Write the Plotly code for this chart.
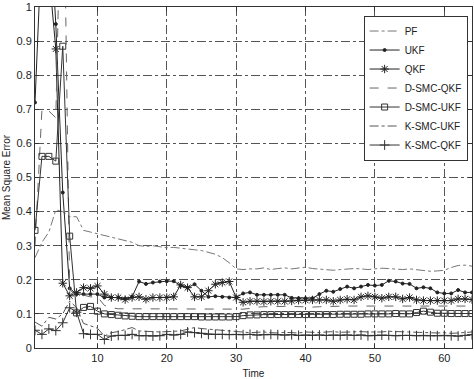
import plotly.graph_objects as go

time = list(range(1, 65))

pf = [0.265,0.31,0.34,0.405,0.40,0.385,0.385,0.345,0.34,0.335,
      0.33,0.325,0.32,0.315,0.31,0.30,0.298,0.30,0.298,0.294,
      0.295,0.292,0.29,0.288,0.286,0.28,0.275,0.265,0.25,0.232,
      0.23,0.232,0.232,0.235,0.23,0.233,0.235,0.232,0.234,0.237,
      0.233,0.232,0.23,0.228,0.23,0.232,0.233,0.232,0.23,0.232,
      0.234,0.233,0.232,0.23,0.232,0.229,0.227,0.225,0.226,0.228,
      0.236,0.242,0.243,0.24]

ukf = [0.72,1.2,1.3,0.95,0.456,0.175,0.158,0.158,0.158,0.158,
       0.148,0.148,0.148,0.145,0.15,0.195,0.188,0.192,0.195,0.196,
       0.196,0.183,0.177,0.187,0.168,0.15,0.152,0.15,0.148,0.148,
       0.16,0.163,0.156,0.156,0.156,0.156,0.156,0.147,0.146,0.146,
       0.146,0.158,0.168,0.165,0.173,0.18,0.175,0.18,0.185,0.183,
       0.185,0.197,0.195,0.189,0.188,0.175,0.178,0.175,0.163,0.16,
       0.16,0.17,0.163,0.163]

qkf = [1.5,1.4,1.1,0.877,0.19,0.153,0.163,0.177,0.175,0.182,
       0.158,0.148,0.148,0.142,0.148,0.15,0.143,0.148,0.148,0.148,
       0.15,0.185,0.177,0.15,0.15,0.168,0.187,0.192,0.195,0.148,
       0.134,0.137,0.137,0.136,0.137,0.137,0.137,0.138,0.14,0.14,
       0.141,0.141,0.141,0.137,0.141,0.143,0.141,0.15,0.153,0.15,
       0.146,0.15,0.15,0.144,0.148,0.141,0.139,0.139,0.139,0.139,
       0.139,0.144,0.144,0.142]

dsmc_qkf = [0.3,0.70,0.695,0.675,1.6,0.17,0.155,0.155,0.15,0.15,
            0.125,0.118,0.115,0.115,0.114,0.114,0.113,0.113,0.113,0.113,
            0.113,0.113,0.113,0.113,0.113,0.113,0.113,0.113,0.113,0.113,
            0.114,0.116,0.12,0.121,0.122,0.122,0.122,0.122,0.121,0.12,
            0.12,0.121,0.122,0.122,0.122,0.123,0.123,0.123,0.123,0.124,
            0.124,0.124,0.124,0.124,0.124,0.123,0.123,0.124,0.124,0.124,
            0.124,0.124,0.123,0.123]

dsmc_ukf = [0.345,0.562,0.562,0.548,0.885,0.328,0.103,0.119,0.122,0.108,
            0.10,0.098,0.096,0.094,0.093,0.092,0.092,0.092,0.092,0.092,
            0.092,0.092,0.092,0.092,0.091,0.091,0.091,0.091,0.091,0.092,
            0.095,0.097,0.097,0.098,0.098,0.098,0.098,0.098,0.098,0.098,
            0.098,0.098,0.098,0.098,0.099,0.099,0.099,0.099,0.1,0.1,
            0.1,0.1,0.101,0.1,0.1,0.104,0.108,0.105,0.102,0.102,
            0.101,0.101,0.101,0.101]

ksmc_ukf = [0.076,0.064,0.09,0.085,0.1,0.138,0.118,0.072,0.065,0.058,
            0.035,0.045,0.048,0.055,0.06,0.05,0.048,0.048,0.047,0.048,
            0.048,0.05,0.055,0.06,0.057,0.055,0.055,0.052,0.05,0.048,
            0.047,0.045,0.046,0.047,0.045,0.044,0.046,0.045,0.044,0.047,
            0.046,0.045,0.047,0.048,0.046,0.047,0.049,0.048,0.047,0.046,
            0.047,0.049,0.048,0.047,0.046,0.045,0.046,0.045,0.044,0.045,
            0.043,0.044,0.046,0.047]

ksmc_qkf = [0.052,0.04,0.056,0.051,0.074,0.118,0.105,0.042,0.04,0.04,
            0.025,0.035,0.037,0.037,0.04,0.036,0.036,0.035,0.036,0.04,
            0.038,0.04,0.047,0.045,0.043,0.04,0.04,0.04,0.039,0.04,
            0.039,0.04,0.038,0.039,0.04,0.039,0.038,0.039,0.037,0.038,
            0.037,0.038,0.037,0.038,0.037,0.038,0.037,0.038,0.036,0.037,
            0.038,0.037,0.036,0.037,0.037,0.036,0.037,0.036,0.036,0.037,
            0.036,0.035,0.037,0.039]

x_ticks = [10, 20, 30, 40, 50, 60]
y_ticks = [0, 0.1, 0.2, 0.3, 0.4, 0.5, 0.6, 0.7, 0.8, 0.9, 1]

fig = go.Figure()

def add(name, y, color, dash, symbol=None, msize=5):
    mode = "lines+markers" if symbol else "lines"
    kw = {}
    if symbol:
        kw["marker"] = dict(symbol=symbol, size=msize, color=color,
                            line=dict(color=color, width=1))
    fig.add_trace(go.Scatter(x=time, y=y, name=name, mode=mode,
                             line=dict(color=color, width=1, dash=dash), **kw))

add("PF", pf, "#777777", "dashdot")
add("UKF", ukf, "#222222", "solid", "circle", 3)
add("QKF", qkf, "#222222", "solid", "asterisk-open", 7)
add("D-SMC-QKF", dsmc_qkf, "#666666", "dash")
add("D-SMC-UKF", dsmc_ukf, "#333333", "solid", "square-open", 6)
add("K-SMC-UKF", ksmc_ukf, "#555555", "dashdot")
add("K-SMC-QKF", ksmc_qkf, "#333333", "solid", "cross-thin-open", 7)

axis_common = dict(showline=True, linecolor="#333333", linewidth=1, mirror="ticks",
                   ticks="inside", ticklen=4, tickcolor="#333333",
                   showgrid=True, gridcolor="#555555", gridwidth=1, griddash="dashdot",
                   zeroline=False, ticklabeloverflow="allow",
                   tickfont=dict(size=11, color="#222222"))

fig.update_xaxes(range=[1, 64], tickvals=x_ticks,
                 title=dict(text="Time", font=dict(size=10, color="#222222"), standoff=8),
                 **axis_common)
fig.update_yaxes(range=[0, 1], tickvals=y_ticks, ticktext=[str(v) for v in y_ticks],
                 title=dict(text="Mean Square Error", font=dict(size=10, color="#222222"), standoff=4),
                 **axis_common)

fig.update_layout(
    width=474, height=379,
    margin=dict(l=35, r=2, t=7, b=31, autoexpand=False),
    plot_bgcolor="white", paper_bgcolor="white",
    font=dict(family="Liberation Sans, Arial, sans-serif", color="#222222"),
    legend=dict(x=0.99, y=0.975, xanchor="right", yanchor="top",
                bgcolor="white", bordercolor="#333333", borderwidth=1,
                font=dict(size=10, color="#222222"), itemwidth=30, tracegroupgap=0),
    showlegend=True,
)

fig.write_html("out.html", config={"staticPlot": True, "displayModeBar": False},
               post_script="document.body.style.margin='0';")
